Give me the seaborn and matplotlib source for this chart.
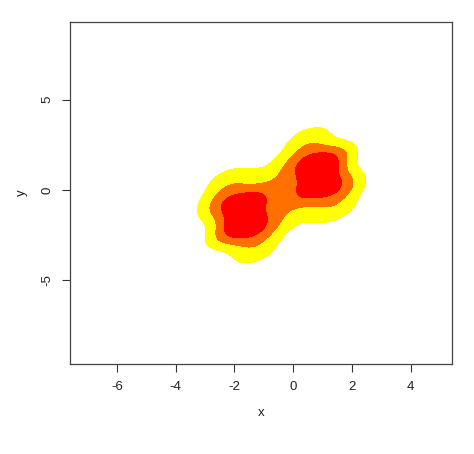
import matplotlib
matplotlib.use("Agg")
import matplotlib.pyplot as plt
import seaborn as sns
import pandas as pd

# hand-placed sample points: lower-left blob (centre, inner ring, outer ring),
# then the upper-right blob in the same order
x_vals = [-1.75,
          -1.1, -1.42, -2.08, -2.4, -2.08, -1.42,
          -0.45, -0.83, -1.75, -2.67, -3.05, -2.67, -1.75, -0.83,
          0.95,
          1.6, 1.28, 0.62, 0.3, 0.62, 1.28,
          2.25, 1.87, 0.95, 0.03, -0.35, 0.03, 0.95, 1.87]
y_vals = [-1.45,
          -1.71, -0.54, -0.28, -1.19, -2.36, -2.62,
          -1.97, -0.12, 0.95, 0.62, -0.93, -2.78, -3.85, -3.52,
          0.85,
          0.59, 1.76, 2.02, 1.11, -0.06, -0.32,
          0.33, 2.18, 3.25, 2.92, 1.37, -0.48, -1.55, -1.22]

levels = [0.25, 0.5, 0.75, 1.0]
fill_colors = ["#FFFF00", "#FF7000", "#FF0000"]
x_ticks = [-6, -4, -2, 0, 2, 4]
y_ticks = [-5, 0, 5]

sns.set_style("white")
plt.rcParams["font.family"] = ["Liberation Sans", "DejaVu Sans"]

df = pd.DataFrame({"x": x_vals, "y": y_vals})

fig = plt.figure(figsize=(4.74, 4.54), dpi=100)
ax = fig.add_axes([0.148, 0.198, 0.806, 0.754])

sns.kdeplot(data=df, x="x", y="y", fill=True, levels=levels, bw_adjust=0.75,
            cmap="autumn_r", ax=ax, gridsize=200, cut=5)

# recolour the three filled bands (outer -> inner)
cs = ax.collections[-1]
cs.set_array(None)
cs.set_facecolor(fill_colors)
cs.set_edgecolor("none")

ax.set_xlim(-7.59, 5.41)
ax.set_ylim(-9.67, 9.33)
ax.set_xticks(x_ticks)
ax.set_yticks(y_ticks)
ax.set_xticklabels([str(t) for t in x_ticks])
ax.set_yticklabels([str(t) for t in y_ticks], rotation=90, va="center")
ax.tick_params(direction="out", length=6, width=0.8, colors="#333333",
               labelsize=9.5, pad=6, bottom=True, left=True, labelcolor="#222222")
for s in ax.spines.values():
    s.set_color("#444444")
    s.set_linewidth(0.9)
ax.set_xlabel("x", fontsize=9.5, labelpad=10, color="#222222")
ax.set_ylabel("y", fontsize=9.5, labelpad=10, color="#222222")

fig.savefig("out.png", dpi=100, facecolor="white")
